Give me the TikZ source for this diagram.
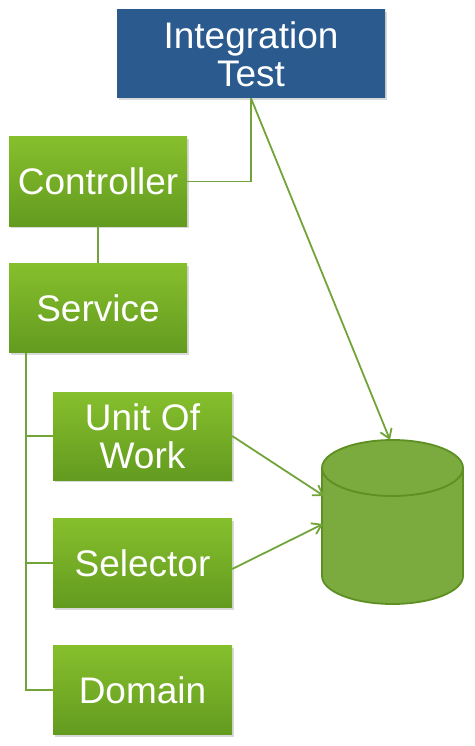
\documentclass[tikz,border=0pt]{standalone}
\usepackage{fontspec}
\setmainfont{Liberation Sans}
\usetikzlibrary{shadows,arrows.meta}
\definecolor{itblue}{HTML}{2A5A8E}
\definecolor{gtop}{HTML}{86BF2C}
\definecolor{gbot}{HTML}{639B20}
\definecolor{gline}{HTML}{72A43A}
\definecolor{cylfill}{HTML}{7BAA3F}
\definecolor{cyledge}{HTML}{5E8F22}
\tikzset{
  box/.style={rectangle, minimum width=179pt, minimum height=89pt, inner sep=0pt,
    top color=gtop, bottom color=gbot, text=white, align=center,
    font=\fontsize{37}{38}\selectfont,
    drop shadow={shadow xshift=2pt, shadow yshift=-2pt, opacity=.3}},
  itbox/.style={box, fill=itblue, top color=itblue, bottom color=itblue, minimum width=268pt, minimum height=88pt},
  conn/.style={draw=gline, line width=1.8pt},
  arr/.style={conn, -{Straight Barb[length=9pt,width=12pt]}}
}
\begin{document}
\begin{tikzpicture}[x=1pt,y=-1pt]
\useasboundingbox (0,0) rectangle (474,746);
\node[itbox] (it) at (251,54) {Integration\\Test};
\node[box, minimum width=178pt] (ctrl) at (98,181.5) {Controller};
\node[box, minimum width=178pt] (svc) at (98,308) {Service};
\node[box, minimum height=88pt] (uow) at (142.5,436) {Unit Of\\Work};
\node[box] (sel) at (142.5,563) {Selector};
\node[box] (dom) at (142.5,690) {Domain};
% cylinder
\fill[cylfill, draw=cyledge, line width=1.8pt]
  (322,468) -- (322,576) arc[start angle=180, end angle=360, x radius=70.5, y radius=-28]
  -- (463,468) arc[start angle=0, end angle=180, x radius=70.5, y radius=-28] -- cycle;
\draw[cyledge, line width=1.8pt] (322,468) arc[start angle=180, end angle=360, x radius=70.5, y radius=-28];
\coordinate (cyltop) at (390,440);
\coordinate (cylA) at (324,496);
\coordinate (cylB) at (323,524);
% connectors
\draw[conn] (ctrl.east) -| (it.south);
\draw[conn] (ctrl.south) -- (svc.north);
\coordinate (trunk) at ([xshift=17pt]svc.south west);
\draw[conn] (trunk) |- (dom.west);
\draw[conn] (trunk |- uow.west) -- (uow.west);
\draw[conn] (trunk |- sel.west) -- (sel.west);
\draw[arr] (it.south) -- (cyltop);
\draw[arr] (uow.east) -- (cylA);
\draw[arr] ([yshift=-6pt]sel.east) -- (cylB);
\end{tikzpicture}
\end{document}
